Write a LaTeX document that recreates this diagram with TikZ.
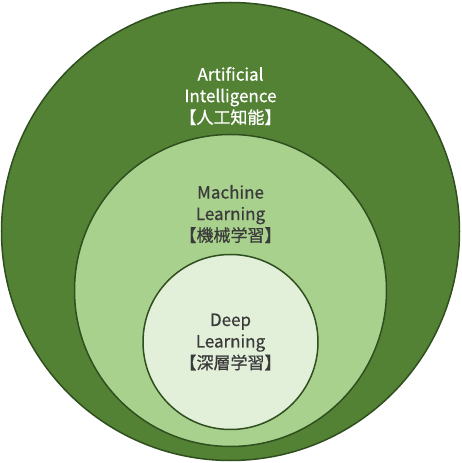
\documentclass[tikz,border=0pt]{standalone}
\usepackage{fontspec}
\setmainfont{Noto Sans CJK JP}[FakeBold=0.6]
\begin{document}
\begin{tikzpicture}[x=1pt,y=1pt,
  ring/.style={circle, draw=ringline, line width=1.5pt, inner sep=0pt},
  lbl/.style={align=center, font=\fontsize{17}{21.5}\selectfont, inner sep=0pt}]
\definecolor{ringline}{HTML}{2F4F1E}
\definecolor{aifill}{HTML}{548235}
\definecolor{mlfill}{HTML}{A9D18E}
\definecolor{dlfill}{HTML}{E2F0D9}
\definecolor{darktext}{HTML}{3A3A3A}
\useasboundingbox (0,0) rectangle (461,463);
\node[ring, fill=aifill, minimum size=458pt] (ai) at (230.5,231.5) {};
\node[ring, fill=mlfill, minimum size=312pt] (ml) at (230.5,172.5) {};
\node[ring, fill=dlfill, minimum size=175pt] (dl) at (230.5,121) {};
\node[lbl, text=white] (ait) at (230.5,367) {Artificial\\Intelligence\\【人工知能】};
\node[lbl, text=darktext] (mlt) at (230.5,249) {Machine\\Learning\\【機械学習】};
\node[lbl, text=darktext] (dlt) at (230.5,121) {Deep\\Learning\\【深層学習】};
\end{tikzpicture}
\end{document}
